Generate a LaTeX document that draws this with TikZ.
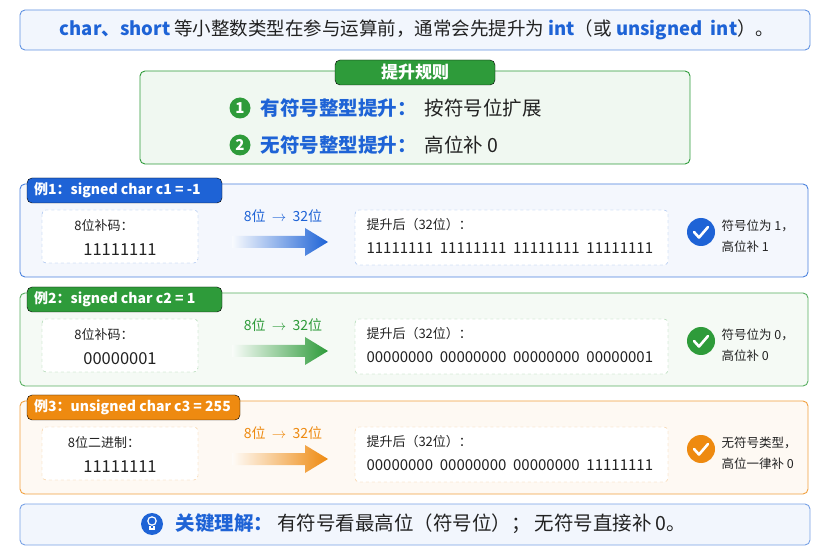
\documentclass[tikz,border=0pt]{standalone}
\usepackage{fontspec}
\setmainfont{Noto Sans CJK SC}
\usetikzlibrary{calc}
\definecolor{cblue}{HTML}{1E63D6}
\definecolor{cgreen}{HTML}{2E9B3A}
\definecolor{corange}{HTML}{EE8A10}
\definecolor{ink}{HTML}{222222}
\begin{document}
\begin{tikzpicture}[x=1pt,y=-1pt,font=\fontsize{13}{15}\selectfont,text=ink]
\tikzstyle{panel}=[rounded corners=5pt,line width=0.9pt]
\tikzstyle{tab}=[rounded corners=5pt,text=white,font=\bfseries\fontsize{14}{16}\selectfont,inner sep=0pt]
\tikzstyle{dashbox}=[rounded corners=4pt,dashed,line width=0.4pt]
\useasboundingbox[fill=white] (0,0) rectangle (815,548);

% title
\draw[panel,draw=cblue!70,fill=cblue!6] (20,10) rectangle (810,50);
\node (top) at (417,30) {\fontsize{18.5}{20}\selectfont
  \textcolor{cblue}{\bfseries char、short} 等小整数类型在参与运算前，通常会先提升为
  \textcolor{cblue}{\bfseries int}（或 \textcolor{cblue}{\bfseries unsigned\ \ int}）。};

% rules
\draw[panel,draw=cgreen,fill=cgreen!7] (140,71) rectangle (690,164);
\draw[tab,fill=cgreen] (335,60) rectangle (495,85);
\node[tab] (rules) at (415,72.5) {\fontsize{17}{19}\selectfont 提升规则};
\foreach \y/\n/\a/\b in {108/1/有符号整型提升：/按符号位扩展, 145/2/无符号整型提升：/高位补 0} {
  \fill[cgreen] (240,\y) circle (10.5);
  \node[text=white,font=\bfseries\fontsize{15}{17}\selectfont] (n\n) at (240,\y) {\n};
  \node[anchor=west,font=\fontsize{19.5}{21}\selectfont] (r\n) at (257,\y)
    {\textcolor{cblue}{\bfseries \a}\hspace{8pt}\b};
}

% examples
\foreach \y/\c/\w/\lab/\head/\val/\full/\ta/\tb in {
  0/cblue/222/{例1：signed char c1\ =\ -1}/{8位补码：}/11111111/{11111111\ \ 11111111\ \ 11111111\ \ 11111111}/{符号位为 1，}/{高位补 1},
  109/cgreen/222/{例2：signed char c2\ =\ 1}/{8位补码：}/00000001/{00000000\ \ 00000000\ \ 00000000\ \ 00000001}/{符号位为 0，}/{高位补 0},
  217/corange/240/{例3：unsigned char c3\ =\ 255}/{8位二进制：}/11111111/{00000000\ \ 00000000\ \ 00000000\ \ 11111111}/{无符号类型，}/{高位一律补 0}} {
  \begin{scope}[yshift=-\y]
  \draw[panel,draw=\c!80,fill=\c!5] (20,184) rectangle (808,277);
  \draw[tab,fill=\c] (27,178) rectangle (\w,203);
  \node[tab,anchor=west] (tab\y) at (34,190.5) {\lab};
  \draw[dashbox,draw=\c!50,fill=white] (42,210) rectangle (198,263);
  \node (hd\y) at (104,226) {\head};
  \node[font=\fontsize{16.5}{18}\selectfont] (v\y) at (120,250) {\val};
  \shade[left color=\c!3,right color=\c] (232,236) -- (305,236) -- (305,228) -- (328,242)
    -- (305,256) -- (305,248) -- (232,248) -- cycle;
  \node[text=\c,font=\fontsize{14}{16}\selectfont] (ar\y) at (283,216) {8位\ \ $\rightarrow$\ \ 32位};
  \draw[dashbox,draw=\c!50,fill=white] (355,210) rectangle (668,265);
  \node[anchor=west] (fh\y) at (363,225) {提升后（32位）：};
  \node[anchor=west,font=\fontsize{15}{17}\selectfont] (fv\y) at (363,248) {\full};
  \fill[\c] (701,232) circle (14);
  \draw[white,line width=2.6pt,line cap=round,line join=round] (694,232) -- (699,237.5) -- (708,227);
  \node[anchor=west,font=\fontsize{12.5}{14}\selectfont] (ta\y) at (718,226) {\ta};
  \node[anchor=west,font=\fontsize{12.5}{14}\selectfont] (tb\y) at (718,247) {\tb};
  \end{scope}
}

% key point
\draw[panel,draw=cblue!60,fill=cblue!6] (20,504) rectangle (810,545);
\fill[cblue] (152,524) circle (11);
\draw[white,line width=1.2pt] (152,521) circle (4.2);
\draw[white,line width=1.2pt] (150,526) -- (150,529) -- (154,529) -- (154,526);
\node[anchor=west,font=\fontsize{19.5}{21}\selectfont] (key) at (172,524)
  {\textcolor{cblue}{\bfseries 关键理解：}\hspace{4pt}有符号看最高位（符号位）；\hspace{4pt}无符号直接补 0。};
\end{tikzpicture}
\end{document}
